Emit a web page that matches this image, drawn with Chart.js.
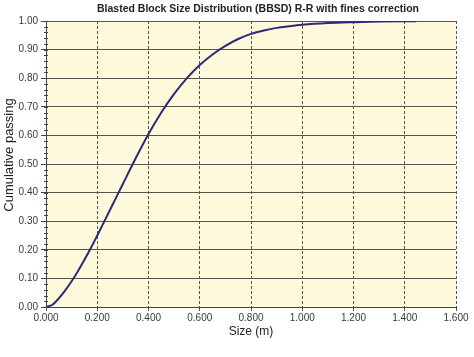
<!DOCTYPE html>
<html>
<head>
<meta charset="utf-8">
<script src="https://cdn.jsdelivr.net/npm/chart.js@4/dist/chart.umd.min.js"></script>
<style>
  html, body { margin: 0; padding: 0; background: #ffffff; }
  #wrap { width: 474px; height: 357px; position: relative; }
</style>
</head>
<body>
<div id="wrap"><canvas id="c" width="474" height="357"></canvas></div>
<script>
// Data
const sizes   = [0, 0.025, 0.05, 0.075, 0.1, 0.125, 0.15, 0.175, 0.2, 0.25, 0.3, 0.35, 0.4, 0.45, 0.5, 0.55, 0.6, 0.65, 0.7, 0.75, 0.8, 0.85, 0.9, 0.95, 1.0, 1.1, 1.2, 1.3, 1.445];
const passing = [0, 0.008, 0.03, 0.058, 0.09, 0.126, 0.165, 0.206, 0.25, 0.34, 0.43, 0.52, 0.605, 0.68, 0.745, 0.8, 0.846, 0.883, 0.913, 0.937, 0.955, 0.967, 0.976, 0.982, 0.987, 0.993, 0.996, 0.998, 0.999];
const chartTitle = 'Blasted Block Size Distribution (BBSD) R-R with fines correction';
const xTitle = 'Size (m)';
const yTitle = 'Cumulative passing';
const xTickStep = 0.2, xMax = 1.6;
const yTickStep = 0.1, yMax = 1.0, yMinorStep = 0.02;

const FONT = '"Liberation Sans", Arial, sans-serif';

const decor = {
  id: 'decor',
  beforeDraw(chart) {
    const {ctx, chartArea: a} = chart;
    ctx.save();
    ctx.fillStyle = '#fdf9da';
    ctx.fillRect(a.left, a.top, a.right - a.left, a.bottom - a.top);
    ctx.restore();
  },
  afterDraw(chart) {
    const {ctx, chartArea: a} = chart;
    const ys = chart.scales.y;
    ctx.save();
    // minor ticks on y axis
    ctx.strokeStyle = '#444';
    ctx.lineWidth = 1;
    for (let v = 0; v <= yMax + 1e-9; v += yMinorStep) {
      const py = Math.round(ys.getPixelForValue(v)) + 0.5;
      ctx.beginPath();
      ctx.moveTo(a.left - 2, py);
      ctx.lineTo(a.left + 2, py);
      ctx.stroke();
    }
    // chart title
    ctx.fillStyle = '#222';
    ctx.font = 'bold 10.5px ' + FONT;
    ctx.textAlign = 'center';
    ctx.textBaseline = 'middle';
    ctx.fillText(chartTitle, 258, 9);
    // y title
    ctx.font = '13px ' + FONT;
    ctx.translate(9, 155);
    ctx.rotate(-Math.PI / 2);
    ctx.fillText(yTitle, 0, 0);
    ctx.restore();
  }
};

new Chart(document.getElementById('c'), {
  type: 'line',
  data: {
    datasets: [{
      data: sizes.map((s, i) => ({x: s, y: passing[i]})),
      borderColor: '#2c2a78',
      borderWidth: 2,
      pointRadius: 0,
      fill: false,
      cubicInterpolationMode: 'monotone'
    }]
  },
  options: {
    responsive: false,
    animation: false,
    devicePixelRatio: 1,
    layout: { padding: { left: 0, top: 21, right: 18, bottom: 0 } },
    plugins: { legend: { display: false }, title: { display: false }, tooltip: { enabled: false } },
    scales: {
      x: {
        type: 'linear',
        min: 0, max: xMax,
        afterFit(s) { s.height = 50; },
        ticks: {
          stepSize: xTickStep,
          padding: 1,
          color: '#3a3a3a',
          font: { family: FONT, size: 10 },
          maxRotation: 0,
          callback: v => v.toFixed(3)
        },
        grid: { color: '#55554d', lineWidth: 1, tickLength: 4, tickColor: '#55554d' },
        border: { display: true, color: '#444', width: 1, dash: [3, 2] },
        title: { display: true, text: xTitle, color: '#222', font: { family: FONT, size: 12 }, padding: { top: 0, bottom: 18 } }
      },
      y: {
        type: 'linear',
        min: 0, max: yMax,
        afterFit(s) { s.width = 46; },
        ticks: {
          stepSize: yTickStep,
          padding: 3,
          color: '#3a3a3a',
          font: { family: FONT, size: 10 },
          callback: v => v.toFixed(2)
        },
        grid: { color: '#55554d', lineWidth: 1, tickLength: 5, tickColor: '#444' },
        border: { display: true, color: '#444', width: 1 }
      }
    }
  },
  plugins: [decor]
});
</script>
</body>
</html>
